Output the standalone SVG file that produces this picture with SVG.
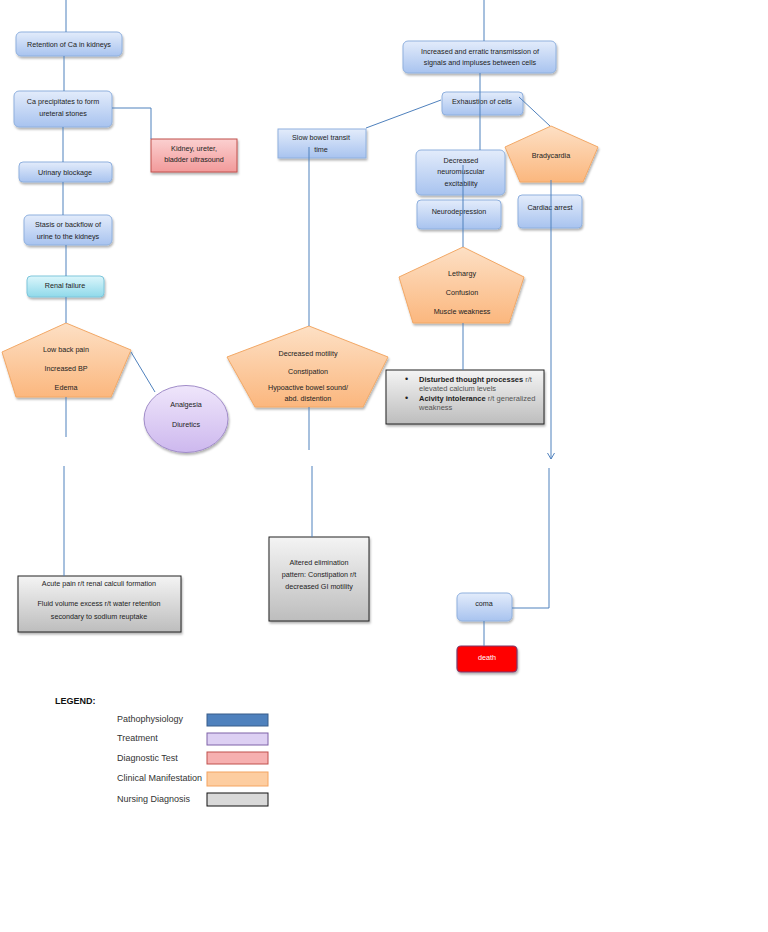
<svg xmlns="http://www.w3.org/2000/svg" width="768" height="932" viewBox="0 0 768 932">
<defs>
<linearGradient id="gBlue" x1="0" y1="0" x2="0" y2="1"><stop offset="0" stop-color="#e3ecfb"/><stop offset="1" stop-color="#a8c3ef"/></linearGradient>
<linearGradient id="gCyan" x1="0" y1="0" x2="0" y2="1"><stop offset="0" stop-color="#dcf6fb"/><stop offset="1" stop-color="#8fd9ea"/></linearGradient>
<linearGradient id="gRed" x1="0" y1="0" x2="0" y2="1"><stop offset="0" stop-color="#fbd0d0"/><stop offset="1" stop-color="#f29a9a"/></linearGradient>
<linearGradient id="gOrange" x1="0" y1="0" x2="0" y2="1"><stop offset="0" stop-color="#fde0c5"/><stop offset="1" stop-color="#fbb77e"/></linearGradient>
<linearGradient id="gPurple" x1="0" y1="0" x2="0" y2="1"><stop offset="0" stop-color="#efe6fb"/><stop offset="1" stop-color="#cdb8ee"/></linearGradient>
<linearGradient id="gGray" x1="0" y1="0" x2="0" y2="1"><stop offset="0" stop-color="#f4f4f4"/><stop offset="1" stop-color="#bdbdbd"/></linearGradient>
<filter id="sh" x="-10%" y="-10%" width="130%" height="140%"><feDropShadow dx="1" dy="2" stdDeviation="1.2" flood-color="#000" flood-opacity="0.3"/></filter>
<marker id="arr" markerWidth="10" markerHeight="10" refX="8" refY="5" orient="auto" markerUnits="userSpaceOnUse" viewBox="0 0 10 10"><path d="M2,1.5 L8,5 L2,8.5" fill="none" stroke="#4f81bd" stroke-width="1"/></marker>
</defs>
<style>
.t{font-family:"Liberation Sans",Arial,sans-serif;font-size:7.2px;fill:#222;text-anchor:middle}
.pb{fill:url(#gBlue);stroke:#8fb0de;stroke-width:1;filter:url(#sh)}
.cy{fill:url(#gCyan);stroke:#7ec6db;stroke-width:1;filter:url(#sh)}
.rd{fill:url(#gRed);stroke:#c0504d;stroke-width:1;filter:url(#sh)}
.or{fill:url(#gOrange);stroke:#f2a866;stroke-width:1;filter:url(#sh)}
.pu{fill:url(#gPurple);stroke:#a08cc8;stroke-width:1;filter:url(#sh)}
.gr{fill:url(#gGray);stroke:#222;stroke-width:1;filter:url(#sh)}
.c{fill:none;stroke:#4f81bd;stroke-width:1}
.lg{font-family:"Liberation Sans",Arial,sans-serif;font-size:9px;fill:#333}
.nd{font-family:"Liberation Sans",Arial,sans-serif;font-size:7.5px;fill:#555}
.ndb{font-weight:bold;fill:#222}
</style>

<g id="n-retention"><rect class="pb" x="16" y="32" width="106" height="24" rx="5"/><text class="t" x="69" y="46.5">Retention of Ca in kidneys</text></g>
<g id="n-precipitate"><rect class="pb" x="14" y="91" width="98" height="36" rx="5"/><text class="t" x="63" y="103.5">Ca precipitates to form</text><text class="t" x="63" y="116">ureteral stones</text></g>
<g id="n-ultrasound"><rect class="rd" x="151" y="139" width="86" height="33"/><text class="t" x="194" y="151">Kidney, ureter,</text><text class="t" x="194" y="161.5">bladder ultrasound</text></g>
<g id="n-blockage"><rect class="pb" x="19" y="162" width="93" height="20" rx="4"/><text class="t" x="65" y="174.5">Urinary blockage</text></g>
<g id="n-stasis"><rect class="pb" x="24" y="215" width="88" height="30" rx="5"/><text class="t" x="68" y="226.5">Stasis or backflow of</text><text class="t" x="68" y="238.5">urine to the kidneys</text></g>
<g id="n-renal"><rect class="cy" x="27" y="276" width="77" height="21" rx="4"/><text class="t" x="65" y="288">Renal failure</text></g>
<g id="n-lowback"><polygon class="or" points="66,323 131,350 111,397 16,397 2,352"/><text class="t" x="66" y="351.5">Low back pain</text><text class="t" x="66" y="370.5">Increased BP</text><text class="t" x="66" y="389.5">Edema</text></g>
<g id="n-analgesia"><ellipse class="pu" cx="186" cy="419" rx="42" ry="33.5"/><text class="t" x="186" y="406.5">Analgesia</text><text class="t" x="186" y="426.5">Diuretics</text></g>
<g id="n-acutepain"><rect class="gr" x="18" y="576" width="163" height="56"/><text class="t" x="99" y="586">Acute pain r/t renal calculi formation</text><text class="t" x="99" y="606">Fluid volume excess r/t water retention</text><text class="t" x="99" y="619">secondary to sodium reuptake</text></g>

<g id="n-slowbowel"><rect class="pb" x="278" y="129" width="88" height="29"/><text class="t" x="321" y="139.5">Slow bowel transit</text><text class="t" x="321" y="151.5">time</text></g>
<g id="n-motility"><polygon class="or" points="309,326 388,357 363,407 255,407 227,357"/><text class="t" x="308" y="355.5">Decreased motility</text><text class="t" x="308" y="374">Constipation</text><text class="t" x="308" y="390">Hypoactive bowel sound/</text><text class="t" x="308" y="401">abd. distention</text></g>
<g id="n-altered"><rect class="gr" x="269" y="537" width="100" height="84"/><text class="t" x="319" y="564.5">Altered elimination</text><text class="t" x="319" y="576.5">pattern: Constipation r/t</text><text class="t" x="319" y="589">decreased GI motility</text></g>

<g id="n-erratic"><rect class="pb" x="403" y="41" width="153" height="32" rx="5"/><text class="t" x="480" y="53.5">Increased and erratic transmission of</text><text class="t" x="480" y="64.5">signals and impluses between cells</text></g>
<g id="n-exhaustion"><rect class="pb" x="442" y="92" width="81" height="23" rx="4"/><text class="t" x="482" y="103.5">Exhaustion of cells</text></g>
<g id="n-brady"><polygon class="or" points="551,126 598,147 583,182 520,182 505,147"/><text class="t" x="551" y="157.5">Bradycardia</text></g>
<g id="n-neuromusc"><rect class="pb" x="416" y="150" width="89" height="45" rx="5"/><text class="t" x="461" y="162.5">Decreased</text><text class="t" x="461" y="173.5">neuromuscular</text><text class="t" x="461" y="185.5">excitability</text></g>
<g id="n-neurodep"><rect class="pb" x="417" y="200" width="84" height="29" rx="4"/><text class="t" x="459" y="213.5">Neurodepression</text></g>
<g id="n-cardiac"><rect class="pb" x="518" y="195" width="64" height="33" rx="4"/><text class="t" x="550" y="209.5">Cardiac arrest</text></g>
<g id="n-lethargy"><polygon class="or" points="463,247 524,277 509,323 413,323 399,277"/><text class="t" x="462" y="275.5">Lethargy</text><text class="t" x="462" y="294.5">Confusion</text><text class="t" x="462" y="313.5">Muscle weakness</text></g>
<g id="n-nursing"><rect class="gr" x="386" y="370" width="158" height="54"/>
<text class="nd" x="405" y="382" style="fill:#222;font-size:9px">•</text><text class="nd" x="419" y="382"><tspan class="ndb">Disturbed thought processes</tspan> r/t</text><text class="nd" x="419" y="390.5">elevated calcium levels</text>
<text class="nd" x="405" y="401" style="fill:#222;font-size:9px">•</text><text class="nd" x="419" y="401"><tspan class="ndb">Acivity intolerance</tspan> r/t generalized</text><text class="nd" x="419" y="410">weakness</text></g>
<g id="n-coma"><rect class="pb" x="457" y="593" width="55" height="28" rx="5"/><text class="t" x="484" y="606">coma</text></g>
<g id="n-death"><rect x="457" y="646" width="60" height="26" rx="4" fill="#ff0000" stroke="#7a3a6a" stroke-width="1.2" filter="url(#sh)"/><text class="t" x="487" y="659.5" style="fill:#fff">death</text></g>

<g id="connectors">
<line class="c" x1="66" y1="0" x2="66" y2="32"/>
<line class="c" x1="64" y1="56" x2="64" y2="91"/>
<polyline class="c" points="112,108 151,108 151,139"/>
<line class="c" x1="63" y1="127" x2="63" y2="162"/>
<line class="c" x1="63" y1="182" x2="63" y2="215"/>
<line class="c" x1="66" y1="245" x2="66" y2="276"/>
<line class="c" x1="66" y1="297" x2="66" y2="323"/>
<line class="c" x1="131" y1="352" x2="155" y2="392"/>
<line class="c" x1="66" y1="397" x2="66" y2="437"/>
<line class="c" x1="64" y1="466" x2="64" y2="576"/>
<line class="c" x1="366" y1="128" x2="441" y2="100"/>
<line class="c" x1="309" y1="147" x2="309" y2="326"/>
<line class="c" x1="309" y1="407" x2="309" y2="450"/>
<line class="c" x1="312" y1="466" x2="312" y2="537"/>
<line class="c" x1="484" y1="0" x2="484" y2="41"/>
<line class="c" x1="480" y1="73" x2="480" y2="150"/>
<line class="c" x1="519" y1="97" x2="550" y2="126"/>
<line class="c" x1="463" y1="165" x2="463" y2="247"/>
<line class="c" x1="463" y1="323" x2="463" y2="370"/>
<line class="c" x1="551" y1="180" x2="551" y2="459" marker-end="url(#arr)"/>
<polyline class="c" points="549,468 549,608 512,608"/>
<line class="c" x1="484" y1="621" x2="484" y2="646"/>
</g>

<g id="legend">
<text x="55" y="704" style="font-family:'Liberation Sans',Arial,sans-serif;font-size:9px;font-weight:bold;fill:#111">LEGEND:</text>
<text class="lg" x="117" y="722">Pathophysiology</text>
<rect x="207" y="714" width="61" height="12" fill="#4f81bd" stroke="#385d8a"/>
<text class="lg" x="117" y="741">Treatment</text>
<rect x="207" y="733" width="61" height="12" fill="#ddd0f3" stroke="#7f62a8"/>
<text class="lg" x="117" y="761">Diagnostic Test</text>
<rect x="207" y="752" width="61" height="12" fill="#f6b0b0" stroke="#c0504d"/>
<text class="lg" x="117" y="781">Clinical Manifestation</text>
<rect x="207" y="772" width="61" height="14" fill="#fdcda0" stroke="#f4a460"/>
<text class="lg" x="117" y="802">Nursing Diagnosis</text>
<rect x="207" y="793" width="61" height="13" fill="#d9d9d9" stroke="#111"/>
</g>
</svg>
